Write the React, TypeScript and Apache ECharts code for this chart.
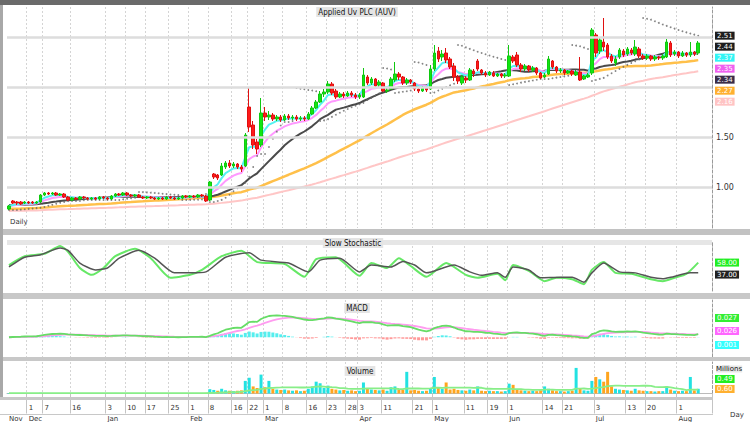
import React, { useEffect, useRef } from "react";
import * as echarts from "echarts";

const chartTitle = "Applied Uv PLC (AUV)";
const monthNames = ["Nov", "Dec", "Jan", "Feb", "Mar", "Apr", "May", "Jun", "Jul", "Aug"];
const monthLengths = [5, 20, 21, 19, 24, 19, 19, 22, 21, 6];
const tickIdx = [5, 9, 16, 25, 30, 35, 41, 46, 51, 57, 61, 65, 70, 76, 81, 86, 89, 95, 103, 108, 116, 122, 127, 136, 141, 149, 157, 162, 170];
const tickDays = ["1", "7", "16", "3", "10", "17", "25", "1", "8", "16", "22", "1", "8", "16", "23", "28", "3", "11", "21", "1", "11", "19", "1", "14", "21", "3", "13", "20", "1"];
const priceGridValues = [1.0, 1.5, 2.0, 2.5];
const priceLabelValues = [1.0, 1.5];
const priceMin = 0.59;
const priceMax = 2.8;
const volMax = 4;
const prior50Avg = 0.78;
const prior100Avg = 0.76;
const prior20Avg = 0.82;

// [open, close, low, high]
const novBars = [
  [0.78, 0.81, 0.77, 0.82], [0.86, 0.84, 0.83, 0.87], [0.85, 0.84, 0.82, 0.86], [0.85, 0.83, 0.82, 0.86], [0.84, 0.85, 0.83, 0.86],
];
const decBars = [
  [0.85, 0.84, 0.83, 0.86], [0.85, 0.84, 0.83, 0.86], [0.84, 0.85, 0.83, 0.86], [0.85, 0.92, 0.84, 0.93], [0.92, 0.94, 0.91, 0.95],
  [0.94, 0.93, 0.92, 0.95], [0.93, 0.94, 0.92, 0.95], [0.94, 0.92, 0.91, 0.95], [0.92, 0.93, 0.91, 0.94], [0.93, 0.90, 0.89, 0.94],
  [0.90, 0.87, 0.86, 0.91], [0.87, 0.89, 0.86, 0.90], [0.89, 0.88, 0.87, 0.90], [0.88, 0.90, 0.87, 0.91], [0.90, 0.89, 0.88, 0.91],
  [0.89, 0.88, 0.87, 0.90], [0.88, 0.89, 0.87, 0.90], [0.89, 0.88, 0.87, 0.90], [0.88, 0.90, 0.87, 0.91], [0.90, 0.89, 0.88, 0.91],
];
const janBars = [
  [0.89, 0.88, 0.87, 0.90], [0.88, 0.91, 0.87, 0.92], [0.91, 0.93, 0.90, 0.94], [0.93, 0.92, 0.91, 0.94], [0.92, 0.94, 0.91, 0.95],
  [0.94, 0.92, 0.91, 0.95], [0.92, 0.91, 0.90, 0.93], [0.91, 0.92, 0.90, 0.93], [0.92, 0.90, 0.89, 0.93], [0.90, 0.89, 0.88, 0.91],
  [0.89, 0.90, 0.88, 0.91], [0.90, 0.89, 0.88, 0.91], [0.89, 0.88, 0.87, 0.90], [0.88, 0.89, 0.87, 0.90], [0.89, 0.88, 0.87, 0.90],
  [0.88, 0.90, 0.87, 0.91], [0.90, 0.89, 0.88, 0.91], [0.89, 0.88, 0.87, 0.90], [0.88, 0.89, 0.87, 0.90], [0.89, 0.91, 0.88, 0.92],
  [0.91, 0.90, 0.89, 0.92],
];
const febBars = [
  [0.90, 0.91, 0.89, 0.92], [0.91, 0.90, 0.89, 0.92], [0.90, 0.92, 0.89, 0.93], [0.92, 0.91, 0.90, 0.93], [0.91, 0.86, 0.85, 0.92],
  [0.87, 1.05, 0.86, 1.06], [1.13, 1.10, 1.08, 1.14], [1.12, 1.09, 1.07, 1.13], [1.12, 1.21, 1.11, 1.24], [1.20, 1.24, 1.18, 1.26],
  [1.24, 1.21, 1.19, 1.27], [1.21, 1.23, 1.19, 1.25], [1.23, 1.20, 1.18, 1.24], [1.20, 1.18, 1.15, 1.22], [1.21, 1.52, 1.20, 1.54],
  [1.80, 1.60, 1.55, 1.99], [1.62, 1.42, 1.38, 1.66], [1.45, 1.38, 1.33, 1.48], [1.42, 1.74, 1.40, 1.89],
];
const marBars = [
  [1.74, 1.70, 1.66, 1.80], [1.70, 1.72, 1.67, 1.76], [1.72, 1.68, 1.66, 1.74], [1.68, 1.70, 1.66, 1.72], [1.70, 1.67, 1.65, 1.72],
  [1.67, 1.71, 1.66, 1.73], [1.71, 1.69, 1.67, 1.73], [1.69, 1.70, 1.67, 1.72], [1.70, 1.68, 1.66, 1.72], [1.68, 1.69, 1.66, 1.71],
  [1.69, 1.68, 1.66, 1.71], [1.68, 1.73, 1.67, 1.75], [1.73, 1.79, 1.72, 1.81], [1.79, 1.85, 1.78, 1.87], [1.85, 1.93, 1.84, 1.96],
  [1.93, 1.95, 1.90, 1.98], [1.95, 2.03, 1.93, 2.06], [2.03, 1.94, 1.92, 2.05], [1.96, 1.90, 1.88, 1.98], [1.90, 1.93, 1.89, 1.95],
  [1.93, 1.91, 1.89, 1.95], [1.91, 1.94, 1.90, 1.96], [1.94, 1.92, 1.90, 1.96], [1.92, 1.90, 1.88, 1.94],
];
const aprBars = [
  [1.90, 1.92, 1.88, 1.94], [1.90, 2.12, 1.89, 2.19], [2.10, 2.04, 2.02, 2.12], [2.04, 2.08, 2.02, 2.10], [2.08, 2.01, 2.00, 2.09],
  [2.02, 2.05, 2.00, 2.07], [2.04, 1.96, 1.95, 2.05], [1.96, 1.97, 1.94, 1.99], [1.98, 2.08, 1.97, 2.10], [2.07, 2.13, 2.05, 2.25],
  [2.13, 2.10, 2.07, 2.15], [2.10, 2.04, 2.02, 2.11], [2.04, 2.07, 2.02, 2.09], [2.07, 2.05, 2.03, 2.08], [2.04, 1.98, 1.96, 2.05],
  [1.98, 1.96, 1.94, 2.00], [1.96, 1.99, 1.95, 2.01], [1.99, 1.97, 1.95, 2.00], [1.98, 2.18, 1.97, 2.22],
];
const mayBars = [
  [2.18, 2.34, 2.16, 2.42], [2.36, 2.28, 2.25, 2.40], [2.30, 2.33, 2.26, 2.37], [2.34, 2.27, 2.24, 2.39], [2.28, 2.20, 2.18, 2.30],
  [2.21, 2.10, 2.06, 2.24], [2.10, 2.06, 2.03, 2.12], [2.04, 2.10, 2.02, 2.12], [2.09, 2.07, 2.04, 2.11], [2.07, 2.17, 2.06, 2.19],
  [2.16, 2.13, 2.10, 2.18], [2.26, 2.18, 2.16, 2.28], [2.17, 2.14, 2.12, 2.18], [2.14, 2.12, 2.10, 2.16], [2.12, 2.15, 2.11, 2.16],
  [2.14, 2.11, 2.10, 2.16], [2.11, 2.13, 2.10, 2.14], [2.13, 2.11, 2.09, 2.14], [2.11, 2.12, 2.09, 2.14],
];
const junBars = [
  [2.11, 2.31, 2.10, 2.42], [2.30, 2.26, 2.24, 2.32], [2.32, 2.22, 2.20, 2.35], [2.22, 2.18, 2.15, 2.24], [2.18, 2.21, 2.16, 2.23],
  [2.21, 2.17, 2.15, 2.22], [2.17, 2.19, 2.15, 2.21], [2.19, 2.14, 2.12, 2.20], [2.14, 2.09, 2.08, 2.15], [2.10, 2.12, 2.09, 2.14],
  [2.13, 2.28, 2.12, 2.31], [2.26, 2.20, 2.18, 2.27], [2.20, 2.16, 2.14, 2.21], [2.16, 2.17, 2.14, 2.19], [2.17, 2.14, 2.12, 2.18],
  [2.14, 2.16, 2.13, 2.17], [2.16, 2.13, 2.11, 2.17], [2.12, 2.15, 2.11, 2.17], [2.15, 2.07, 2.06, 2.30], [2.08, 2.11, 2.07, 2.12],
  [2.10, 2.12, 2.09, 2.14], [2.14, 2.57, 2.12, 2.59],
];
const julBars = [
  [2.52, 2.34, 2.30, 2.54], [2.36, 2.47, 2.33, 2.50], [2.45, 2.40, 2.36, 2.69], [2.42, 2.30, 2.28, 2.44], [2.31, 2.26, 2.24, 2.33],
  [2.24, 2.28, 2.21, 2.31], [2.30, 2.37, 2.28, 2.39], [2.36, 2.32, 2.30, 2.38], [2.33, 2.38, 2.31, 2.40], [2.37, 2.34, 2.32, 2.39],
  [2.33, 2.40, 2.31, 2.47], [2.38, 2.31, 2.29, 2.40], [2.31, 2.29, 2.27, 2.33], [2.29, 2.31, 2.27, 2.33], [2.31, 2.28, 2.26, 2.32],
  [2.28, 2.30, 2.26, 2.32], [2.30, 2.29, 2.27, 2.31], [2.29, 2.31, 2.27, 2.33], [2.30, 2.45, 2.29, 2.48], [2.44, 2.32, 2.30, 2.46],
  [2.33, 2.35, 2.31, 2.37],
];
const augBars = [
  [2.35, 2.31, 2.29, 2.36], [2.31, 2.34, 2.30, 2.36], [2.34, 2.32, 2.30, 2.35], [2.32, 2.35, 2.30, 2.45], [2.35, 2.33, 2.31, 2.36],
  [2.34, 2.44, 2.32, 2.46],
];

// volume, millions
const novVol = [0.05, 0.04, 0.03, 0.04, 0.03];
const decVol = [0.03, 0.04, 0.03, 0.09, 0.06, 0.04, 0.03, 0.04, 0.03, 0.05, 0.06, 0.03, 0.04, 0.03, 0.03, 0.04, 0.03, 0.02, 0.03, 0.03];
const janVol = [0.03, 0.05, 0.07, 0.04, 0.05, 0.04, 0.03, 0.04, 0.03, 0.03, 0.04, 0.03, 0.03, 0.04, 0.03, 0.03, 0.04, 0.03, 0.03, 0.05, 0.04];
const febVol = [0.04, 0.03, 0.05, 0.04, 0.08, 0.55, 0.45, 0.35, 0.6, 0.4, 0.35, 0.3, 0.35, 0.4, 1.6, 2.0, 0.9, 0.7, 2.4];
const marVol = [0.8, 1.6, 0.6, 0.5, 0.45, 0.5, 0.4, 0.35, 0.4, 0.3, 0.35, 0.6, 0.9, 1.5, 1.3, 0.7, 1.0, 0.6, 0.5, 0.4, 0.45, 0.35, 0.4, 0.3];
const aprVol = [0.35, 1.4, 0.6, 0.5, 0.45, 0.4, 0.5, 0.35, 0.8, 0.9, 0.5, 0.45, 2.75, 0.4, 0.45, 0.35, 0.3, 0.35, 0.7];
const mayVol = [2.1, 0.7, 0.6, 1.4, 0.5, 0.6, 0.45, 0.4, 0.35, 0.5, 0.4, 0.9, 0.35, 0.3, 0.35, 0.3, 0.3, 0.25, 0.3];
const junVol = [1.25, 1.1, 0.5, 0.4, 0.35, 0.3, 0.35, 0.3, 0.4, 0.9, 0.6, 0.4, 0.3, 0.3, 0.25, 0.3, 0.35, 3.25, 0.7, 0.4, 0.35, 1.6];
const julVol = [2.1, 1.8, 1.5, 2.75, 0.9, 0.6, 0.5, 0.45, 0.4, 0.35, 0.6, 0.4, 0.35, 0.3, 0.3, 0.25, 0.3, 0.3, 0.9, 0.5, 0.35];
const augVol = [0.3, 0.35, 0.3, 2.1, 0.4, 0.6];

// Slow stochastic (bar index, value)
const stochKIdx = [0, 4, 9, 13, 15, 18, 21, 24, 27, 32, 36, 41, 46, 49, 54, 59, 63, 70, 75, 78, 83, 89, 92, 96, 99, 102, 106, 111, 116, 119, 124, 126, 128, 132, 136, 139, 143, 146, 148, 151, 154, 158, 163, 166, 169, 172, 175];
const stochKVal = [53, 71, 76, 92, 80, 47, 33, 47, 71, 86, 67, 27, 33, 43, 71, 82, 59, 55, 29, 65, 69, 31, 57, 47, 67, 51, 29, 57, 33, 27, 35, 22, 53, 41, 20, 27, 24, 14, 43, 59, 37, 35, 24, 20, 27, 35, 58];
const stochDIdx = [0, 4, 8, 13, 15, 18, 22, 25, 28, 33, 37, 42, 46, 50, 55, 61, 64, 71, 76, 79, 84, 89, 92, 97, 100, 103, 106, 113, 117, 120, 124, 126, 128, 132, 135, 140, 143, 146, 148, 151, 155, 159, 163, 166, 168, 173, 175];
const stochDVal = [49, 69, 74, 88, 83, 57, 43, 47, 67, 83, 67, 37, 37, 39, 69, 78, 63, 57, 39, 63, 67, 39, 53, 49, 60, 53, 37, 53, 39, 32, 37, 28, 49, 43, 27, 28, 28, 18, 37, 57, 39, 37, 28, 25, 28, 37, 37];

const FONT = '"DejaVu Sans", Arial, sans-serif';
const FONT_COND = '"DejaVu Sans Condensed", "Liberation Sans Narrow", "Liberation Sans", Arial, sans-serif';

const bars = [...novBars, ...decBars, ...janBars, ...febBars, ...marBars, ...aprBars, ...mayBars, ...junBars, ...julBars, ...augBars];
const volumes = [...novVol, ...decVol, ...janVol, ...febVol, ...marVol, ...aprVol, ...mayVol, ...junVol, ...julVol, ...augVol];

function ema(a: number[], n: number) {
  const k = 2 / (n + 1);
  const out: number[] = [];
  a.forEach((v, i) => out.push(i === 0 ? v : v * k + out[i - 1] * (1 - k)));
  return out;
}
function smaSeed(a: number[], n: number, seed: number | null) {
  return a.map((_, i) => {
    const s = a.slice(Math.max(0, i - n + 1), i + 1);
    const sum = s.reduce((p, c) => p + c, 0);
    if (seed === null) return sum / s.length;
    return (sum + (n - s.length) * seed) / n;
  });
}
function psar(h: number[], l: number[], step = 0.02, maxAf = 0.2) {
  const out: number[] = [];
  let up = true, af = step, ep = h[0], sar = l[0];
  out.push(sar);
  for (let i = 1; i < h.length; i++) {
    sar = sar + af * (ep - sar);
    if (up) {
      sar = Math.min(sar, l[i - 1], i > 1 ? l[i - 2] : l[i - 1]);
      if (l[i] < sar) { up = false; sar = ep; ep = l[i]; af = step; }
      else if (h[i] > ep) { ep = h[i]; af = Math.min(af + step, maxAf); }
    } else {
      sar = Math.max(sar, h[i - 1], i > 1 ? h[i - 2] : h[i - 1]);
      if (h[i] > sar) { up = true; sar = ep; ep = h[i]; af = step; }
      else if (l[i] < ep) { ep = l[i]; af = Math.min(af + step, maxAf); }
    }
    out.push(sar);
  }
  return out;
}

export default function App() {
  const ref = useRef<HTMLDivElement>(null);
  useEffect(() => {
    const el = ref.current!;
    const chart = echarts.init(el, null, { renderer: "svg" });
    const N = bars.length;
    const cats: string[] = [];
    const monthStart = new Map<number, string>();
    let c = 0;
    monthNames.forEach((m, k) => {
      monthStart.set(c, m);
      for (let d = 0; d < monthLengths[k]; d++) cats.push(`${m}-${d + 1}`);
      c += monthLengths[k];
    });
    for (let j = 0; j < 3; j++) cats.push(`pad${j}`);
    const tickMap = new Map<number, string>();
    tickIdx.forEach((t, k) => tickMap.set(t, tickDays[k]));
    const labelSet = new Set<number>([0, ...tickIdx]);

    const closes = bars.map((b) => b[1]);
    const highs = bars.map((b) => b[3]);
    const lows = bars.map((b) => b[2]);
    const ma5 = ema(closes, 5);
    const ma10 = ema(closes, 10);
    const ma20 = smaSeed(closes, 20, prior20Avg);
    const ma50 = smaSeed(closes, 50, prior50Avg);
    const ma100 = smaSeed(closes, 100, prior100Avg);
    const sar = psar(highs, lows);
    const e12 = ema(closes, 12), e26 = ema(closes, 26);
    const macd = e12.map((v, i) => v - e26[i]);
    const signal = ema(macd, 9);
    const hist = macd.map((v, i) => v - signal[i]);
    const peak = Math.max(...macd);
    const volMa = smaSeed(volumes, 20, null);
    const sparse = (idx: number[], val: number[]) => {
      const a: (number | null)[] = new Array(N).fill(null);
      idx.forEach((i, k) => (a[i] = val[k]));
      return a;
    };
    const stochK = sparse(stochKIdx, stochKVal);
    const stochD = sparse(stochDIdx, stochDVal);

    const grids = [
      { left: 7, right: 38, top: 7, height: 221 },
      { left: 7, right: 38, top: 242, height: 49 },
      { left: 7, right: 38, top: 300, height: 57 },
      { left: 7, right: 38, top: 362, height: 32 },
    ];
    const xAxis = grids.map((_, g) => ({
      type: "category",
      gridIndex: g,
      data: cats,
      boundaryGap: true,
      axisLine: { show: g === 3, lineStyle: { color: "#bbb" } },
      axisTick: g === 3 ? { show: true, interval: (i: number) => tickMap.has(i), length: 20, lineStyle: { color: "#c4c4c4" } } : { show: false },
      axisLabel: g === 3 ? {
        show: true,
        interval: (i: number) => labelSet.has(i),
        align: "left",
        margin: 9,
        formatter: (_v: string, i: number) => {
          const d = tickMap.get(i) ?? " ";
          const m = monthStart.get(i);
          return m ? `{d|${d}}\n{m|${m}}` : `{d|${d}}`;
        },
        rich: {
          d: { fontSize: 7, color: "#333", fontFamily: FONT, lineHeight: 11 },
          m: { fontSize: 7, color: "#333", fontFamily: FONT, lineHeight: 10 },
        },
      } : { show: false },
      splitLine: { show: true, interval: (i: number) => tickMap.has(i), lineStyle: { color: "#d4d4d4", type: [2, 2], width: 1 } },
    }));
    const yBase = (g: number, min: number, max: number) => ({
      type: "value", gridIndex: g, position: "right", min, max,
      axisLine: { show: true, lineStyle: { color: "#9a9a9a", type: [3, 2] } },
      axisTick: { show: false }, axisLabel: { show: false }, splitLine: { show: false },
    });
    const yAxis = [
      yBase(0, priceMin, priceMax),
      yBase(1, 0, 100),
      yBase(2, -0.9 * peak, 1.7 * peak),
      yBase(3, 0, volMax),
    ];
    const line = (name: string, data: any[], color: string, width: number, g: number, z: number, extra: any = {}) => ({
      type: "line", name, data, xAxisIndex: g, yAxisIndex: g, symbol: "none", z,
      lineStyle: { color, width }, itemStyle: { color }, silent: true, ...extra,
    });
    const upColor = "#12e612", downColor = "#ff1a1a";
    const series: any[] = [
      line("SMA100", ma100, "#ffc6c6", 2, 0, 1, {
        markLine: {
          silent: true, symbol: ["none", "none"],
          lineStyle: { color: "#dddddd", width: 2.5, type: "solid" },
          label: { show: true, position: "end", distance: 4, color: "#333", fontSize: 8, fontFamily: FONT, formatter: (p: any) => Number(p.value).toFixed(2) },
          data: priceGridValues.map((v) => ({ yAxis: v, label: { show: priceLabelValues.includes(v) } })),
        },
      }),
      line("SMA50", ma50, "#ffc04a", 2.5, 0, 2),
      line("SMA20", ma20, "#4a4a4a", 2, 0, 2),
      line("EMA10", ma10, "#ff99ff", 2, 0, 2),
      line("EMA5", ma5, "#55f2f2", 2, 0, 2),
      {
        type: "scatter", name: "SAR", data: sar, xAxisIndex: 0, yAxisIndex: 0, symbol: "circle", symbolSize: 1.8,
        itemStyle: { color: "#666" }, z: 3, silent: true,
      },
      {
        type: "candlestick", name: "Price", data: bars, xAxisIndex: 0, yAxisIndex: 0, barWidth: 3, z: 4, silent: true,
        itemStyle: { color: upColor, color0: downColor, borderColor: "#10c810", borderColor0: "#e01010", borderWidth: 1 },
      },
      line("%K", stochK, "#66e866", 2, 1, 2, {
        connectNulls: true, smooth: 0.2,
        markLine: { silent: true, symbol: ["none", "none"], label: { show: false }, lineStyle: { color: "#e6e6e6", width: 5, type: "solid" }, data: [{ yAxis: 100 }] },
      }),
      line("%D", stochD, "#555", 1.5, 1, 3, { connectNulls: true, smooth: 0.2 }),
      {
        type: "bar", name: "Hist", xAxisIndex: 2, yAxisIndex: 2, barWidth: 3, z: 1, silent: true,
        data: hist.map((v) => ({ value: v, itemStyle: { color: v >= 0 ? "#55eeee" : "#ff9a9a" } })),
      },
      line("MACD", macd, "#66dd66", 1.8, 2, 3),
      line("Signal", signal, "#ff9cf0", 1.8, 2, 2),
      {
        type: "bar", name: "Volume", xAxisIndex: 3, yAxisIndex: 3, barWidth: 3, z: 2, silent: true,
        data: volumes.map((v, i) => ({ value: v, itemStyle: { color: i > 0 && closes[i] < closes[i - 1] ? "#ffa51e" : "#22e2e2" } })),
      },
      line("VolMA", volMa, "#88ee88", 1.8, 3, 3),
    ];

    chart.setOption({
      animation: false,
      backgroundColor: "#fff",
      grid: grids,
      xAxis,
      yAxis,
      series,
    });

    const py = (axis: number, v: number) => chart.convertToPixel({ yAxisIndex: axis } as any, v) as unknown as number;
    const box = (x: number, y: number, text: string, bg: string, fg: string) => ({
      type: "text", x, y, z: 100,
      style: { text, font: `7px ${FONT}`, fill: fg, backgroundColor: bg, padding: [1, 2, 0, 2], verticalAlign: "middle", align: "left" },
    });
    const stack = (axis: number, items: { v: number; t: string; bg: string; fg: string }[], h = 11) => {
      let prev = -Infinity;
      return items.map((it) => {
        const y = Math.max(py(axis, it.v), prev + h);
        prev = y;
        return box(715, y, it.t, it.bg, it.fg);
      });
    };
    const L = N - 1;
    const priceBoxes = stack(0, [
      { v: sar[L], t: sar[L].toFixed(2), bg: "#1e1e1e", fg: "#fff" },
      { v: closes[L], t: closes[L].toFixed(2), bg: "#1e1e1e", fg: "#fff" },
      { v: ma5[L], t: ma5[L].toFixed(2), bg: "#33f5f5", fg: "#fff" },
      { v: ma10[L], t: ma10[L].toFixed(2), bg: "#f060f0", fg: "#fff" },
      { v: ma20[L], t: ma20[L].toFixed(2), bg: "#3b2d48", fg: "#fff" },
      { v: ma50[L], t: ma50[L].toFixed(2), bg: "#ffb030", fg: "#fff" },
      { v: ma100[L], t: ma100[L].toFixed(2), bg: "#ffc4c4", fg: "#fff" },
    ]);
    const lastK = stochKVal[stochKVal.length - 1], lastD = stochDVal[stochDVal.length - 1];
    const stochBoxes = stack(1, [
      { v: lastK, t: lastK.toFixed(2), bg: "#22ee22", fg: "#fff" },
      { v: lastD, t: lastD.toFixed(2), bg: "#222", fg: "#fff" },
    ], 12);
    const macdBoxes = [
      box(715, 318, macd[L].toFixed(3), "#33ee33", "#fff"),
      box(715, 331, signal[L].toFixed(3), "#ff66ff", "#fff"),
      box(715, 345, hist[L].toFixed(3), "#33ffff", "#fff"),
    ];
    const volBoxes = [
      box(715, 379, volMa[L].toFixed(2), "#22ee22", "#fff"),
      box(715, 389, volumes[L].toFixed(2), "#ffb030", "#fff"),
    ];
    const rect = (x: number, y: number, w: number, h: number, fill: string) => ({ type: "rect", z: 50, shape: { x, y, width: w, height: h }, style: { fill } });
    const title = (cx: number, cy: number, text: string) => ({
      type: "text", x: cx, y: cy, z: 60,
      style: { text, font: `8px ${FONT_COND}`, fill: "#111", backgroundColor: "#e4e4e4", padding: [1, 2], align: "center", verticalAlign: "middle" },
    });
    const graphics: any[] = [
      rect(0, 0, 750, 5, "#6a6a6a"),
      rect(0, 229, 750, 6, "#c2c2c2"),
      rect(0, 293, 750, 6, "#c8c8c8"),
      rect(0, 357, 750, 4, "#c8c8c8"),
      rect(0, 397, 713, 3, "#c8c8c8"),
      rect(0, 414, 713, 1, "#c8c8c8"),
      rect(0, 5, 3, 392, "#a8a8a8"),
      title(357, 12, chartTitle),
      title(353, 243, "Slow Stochastic"),
      title(357, 308, "MACD"),
      title(360, 371, "Volume"),
      { type: "text", x: 10, y: 222, z: 60, style: { text: "Daily", font: `7px ${FONT}`, fill: "#333", verticalAlign: "middle" } },
      { type: "text", x: 716, y: 369, z: 60, style: { text: "Millions", font: `7px ${FONT}`, fill: "#111", backgroundColor: "#e8e8e8", verticalAlign: "middle" } },
      { type: "text", x: 730, y: 415, z: 60, style: { text: "Day", font: `7px ${FONT}`, fill: "#333", verticalAlign: "middle" } },
      ...priceBoxes, ...stochBoxes, ...macdBoxes, ...volBoxes,
    ];
    chart.setOption({ graphic: graphics });
    return () => chart.dispose();
  }, []);
  return <div ref={ref} style={{ position: "fixed", left: 0, top: 0, width: 750, height: 422, background: "#fff" }} />;
}
